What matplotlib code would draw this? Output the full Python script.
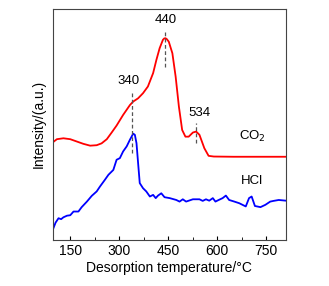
import numpy as np
import matplotlib.pyplot as plt
from matplotlib.ticker import MultipleLocator

plt.rcParams['font.family'] = ['Liberation Sans', 'DejaVu Sans']

# CO2 desorption profile (a.u.)
co2_t = [97, 109, 129, 150, 170, 190, 211, 231, 246, 262, 277, 292, 312, 333,
         343, 358, 373, 388, 404, 414, 424, 434, 438, 442, 446, 452, 463, 473,
         483, 493, 503, 513, 526, 536, 546, 561, 574, 590, 650, 700, 760, 811]
co2_i = [42.3, 43.6, 44.0, 43.6, 42.6, 41.6, 40.8, 41.0, 41.8, 43.6, 46.5,
         49.5, 54.1, 58.4, 59.9, 61.3, 63.5, 66.4, 72.2, 77.9, 83.0, 86.6,
         87.2, 87.3, 86.9, 85.8, 80.8, 70.7, 57.7, 47.6, 44.7, 44.7, 46.5,
         46.9, 45.5, 39.7, 36.4, 36.1, 36.0, 36.0, 36.0, 36.0]

# HCl desorption profile (a.u.)
hcl_t = [97, 105, 114, 122, 129, 140, 150, 160, 175, 185, 201, 216, 231, 241,
         256, 267, 282, 292, 302, 312, 323, 333, 343, 348, 353, 358, 363, 373,
         383, 394, 404, 412, 419, 429, 439, 455, 475, 485, 495, 505, 526, 546,
         556, 566, 576, 587, 595, 605, 617, 627, 637, 653, 668, 688, 698, 706,
         716, 733, 748, 763, 773, 789, 811]
hcl_i = [4.6, 7.5, 9.4, 9.0, 9.8, 10.5, 10.7, 12.3, 12.3, 14.2, 16.6, 19.1,
         21.0, 23.1, 26.0, 28.2, 30.3, 34.7, 35.4, 38.3, 40.5, 43.4, 46.0,
         45.5, 41.9, 33.2, 24.6, 22.4, 21.0, 18.8, 19.5, 18.1, 19.2, 20.2,
         18.5, 18.1, 17.3, 16.6, 17.6, 16.6, 17.6, 17.6, 16.9, 17.6, 17.0,
         18.1, 16.6, 17.3, 18.1, 19.2, 17.3, 16.6, 15.9, 14.5, 18.1, 18.8,
         14.7, 14.2, 15.2, 16.6, 16.9, 17.3, 17.0]

# peak markers: temperature, dashed line bottom/top, label position
peak_t = [340, 440, 534]
peak_lo = [37.5, 75.0, 41.9]
peak_hi = [64.2, 90.6, 50.5]
peak_label_x = [330, 442, 545]
peak_label_y = [69.0, 95.2, 55.1]

fig = plt.figure(figsize=(3.29, 2.86), dpi=100)
ax = fig.add_axes([0.161, 0.161, 0.708, 0.808])

ax.plot(co2_t, co2_i, color='#ff0000', lw=1.3)
ax.plot(hcl_t, hcl_i, color='#0000ff', lw=1.3)

for t, lo, hi, lx, ly in zip(peak_t, peak_lo, peak_hi, peak_label_x, peak_label_y):
    ax.plot([t, t], [lo, hi], color='#555555', lw=0.9, ls=(0, (3, 2)))
    ax.text(lx, ly, str(t), ha='center', va='center', fontsize=9.5)

ax.text(708, 43.3, 'CO$_2$', ha='center', va='baseline', fontsize=9.5)
ax.text(708, 24.2, 'HCl', ha='center', va='baseline', fontsize=9.5)

ax.set_xlim(97, 811)
ax.set_ylim(0, 100)
ax.xaxis.set_major_locator(MultipleLocator(150))
ax.xaxis.set_minor_locator(MultipleLocator(75))
ax.tick_params(axis='x', which='both', direction='in', labelsize=10, pad=3)
ax.tick_params(axis='x', which='major', length=3)
ax.tick_params(axis='x', which='minor', length=2)
ax.set_yticks([])
for s in ax.spines.values():
    s.set_color('#444444')
    s.set_linewidth(0.8)

ax.set_xlabel('Desorption temperature/\u00b0C', fontsize=10, labelpad=2)
ax.set_ylabel('Intensity/(a.u.)', fontsize=10, labelpad=5)

fig.savefig('out.png', dpi=100)
